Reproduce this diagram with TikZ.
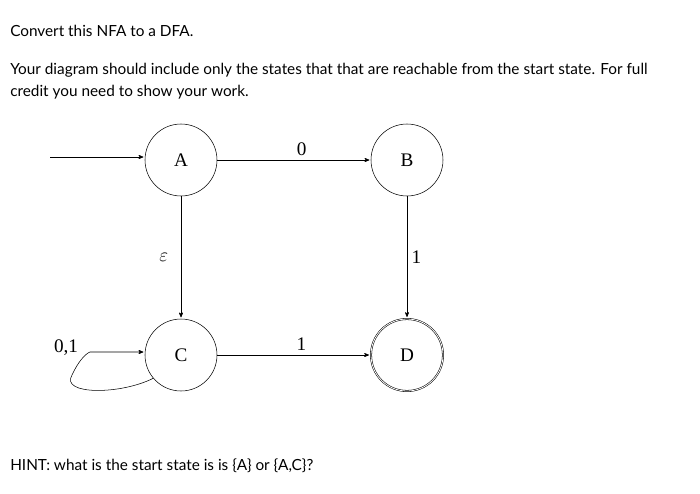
\documentclass[tikz,border=0pt]{standalone}
\usepackage{fontspec}
\setmainfont{Lato}
\newfontfamily\diafont{Liberation Serif}
\usetikzlibrary{arrows,automata,positioning}
\begin{document}
\begin{tikzpicture}[x=0.75pt,y=-0.75pt,->,>=stealth',shorten >=1pt,
  every state/.style={draw,circle,minimum size=54pt,inner sep=0pt,font=\diafont\Large},
  lbl/.style={font=\diafont\Large},
  txt/.style={anchor=base west,inner sep=0pt,font=\fontsize{11.5}{14}\selectfont}]
  \useasboundingbox (0,0) rectangle (700,493);
  % Task text
  \node[txt] (q1) at (10,36) {Convert this NFA to a DFA.};
  \node[txt] (q2) at (10,74) {Your diagram should include only the states that that are reachable from the start state. For full};
  \node[txt] (q3) at (10,96) {credit you need to show your work.};
  \node[txt] (hint) at (10,470) {HINT: what is the start state is is \{A\} or \{A,C\}?};
  % States
  \node[state]          (A) at (181,160) {A};
  \node[state]          (B) at (407,160) {B};
  \node[state]          (C) at (181,355) {C};
  \node[state,accepting,accepting distance=4pt] (D) at (407,355) {D};
  \coordinate (start) at (50,157);
  \coordinate (loop) at (90,352);
  % Edges
  \path (start) edge (A.west|-start)
  (A) edge node[lbl,above,pos=0.55] {0} (B)
  (A) edge node[lbl,left=6pt] {$\varepsilon$} (C)
  (B) edge node[lbl,right] {1} (D)
  (C) edge node[lbl,above,pos=0.55] {1} (D);
  \draw[shorten >=1pt] (C.-140) .. controls (120,395) and (60,395) .. (72,375)
    .. controls (78,362) and (85,354) .. (loop) -- (C.west|-loop);
  \node[lbl] (loopl) at (66,348) {0,1};
\end{tikzpicture}
\end{document}
